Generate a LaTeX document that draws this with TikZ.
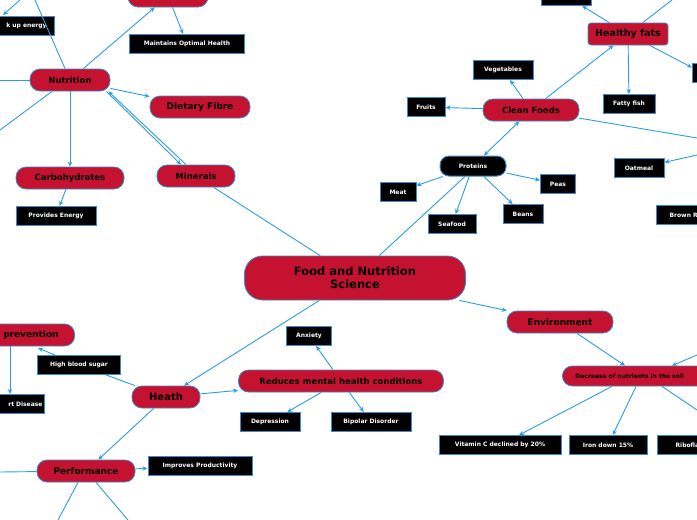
\documentclass[tikz,border=0pt]{standalone}
\usepackage{fontspec}
\setmainfont{DejaVu Sans}
\usetikzlibrary{arrows.meta}
\definecolor{rd}{HTML}{C41230}
\definecolor{bl}{HTML}{2A9DE0}
\definecolor{bd}{HTML}{3A8CC8}
\tikzset{
 red/.style={fill=rd,draw=bd,line width=0.8pt,rounded corners=10pt,minimum height=22pt,font=\bfseries\fontsize{8.5}{9}\selectfont,text=black,inner sep=2pt},
 blk/.style={fill=black,draw=bd,line width=1pt,minimum height=19pt,font=\bfseries\fontsize{6}{7}\selectfont,text=white,inner sep=2pt},
 ln/.style={draw=bl,line width=0.9pt},
 ar/.style={ln,-{Stealth[length=5pt,width=4.5pt]}},
}
\begin{document}
\begin{tikzpicture}[x=1pt,y=-1pt]
\useasboundingbox (0,0) rectangle (697,520);
\clip (0,0) rectangle (697,520);
% nodes
\node[red,minimum width=221pt,minimum height=44pt,rounded corners=18pt,font=\bfseries\fontsize{11.5}{13}\selectfont,align=center] (c) at (355,278) {Food and Nutrition\\ Science};
\node[red,minimum width=80pt] (nut) at (70,80) {Nutrition};
\node[red,minimum width=80pt] (vit) at (168,-4) {Vitamins};
\node[blk,minimum width=115pt] (moh) at (187,44) {Maintains Optimal Health};
\node[red,minimum width=100pt,font=\bfseries\fontsize{9}{10}\selectfont] (df) at (200,107) {Dietary Fibre};
\node[red,minimum width=108pt] (carb) at (70,178) {Carbohydrates};
\node[blk,minimum width=80pt] (pe) at (56,216) {Provides Energy};
\node[red,minimum width=78pt] (min) at (196,176) {Minerals};
\node[blk,minimum width=70pt,anchor=east] (ku) at (55,26) {\hspace*{14pt}k up energy};
\node[red,minimum width=96pt] (cf) at (531,110) {Clean Foods};
\node[red,minimum width=80pt,rounded corners=3pt,font=\bfseries\fontsize{9.5}{10}\selectfont] (hf) at (628,34) {Healthy fats};
\node[blk,minimum width=60pt] (veg) at (503,70) {Vegetables};
\node[blk,minimum width=38pt] (fr) at (426,107) {Fruits};
\node[blk,minimum width=52pt] (ff) at (629,104) {Fatty fish};
\node[blk,minimum width=20pt,anchor=west] (rb) at (692,73) {};
\node[blk,minimum width=50pt] (soy) at (566,-4) {Soy milk};
\node[blk,minimum width=66pt,minimum height=20pt,rounded corners=9pt] (pro) at (473,166) {Proteins};
\node[blk,minimum width=36pt] (meat) at (398,192) {Meat};
\node[blk,minimum width=48pt] (sea) at (452,224) {Seafood};
\node[blk,minimum width=40pt] (bean) at (523,214) {Beans};
\node[blk,minimum width=35pt] (peas) at (558,184) {Peas};
\node[blk,minimum width=50pt] (oat) at (639,168) {Oatmeal};
\node[blk,minimum width=64pt,anchor=west] (br) at (656,215) {Brown Rice};
\node[red,minimum width=106pt,font=\bfseries\fontsize{9}{10}\selectfont] (env) at (560,322) {Environment};
\node[red,minimum width=160pt,minimum height=20pt,anchor=west,font=\bfseries\fontsize{6}{7}\selectfont,align=left,text width=150pt] (dec) at (562,376) {\hspace*{8pt}Decrease of nutrients in the soil};
\node[blk,minimum width=122pt] (vc) at (500,445) {Vitamin C declined by 20\%};
\node[blk,minimum width=78pt] (iron) at (608,445) {Iron down 15\%};
\node[blk,minimum width=70pt,anchor=west] (ribo) at (657,445) {Riboflavin};
\node[red,minimum width=68pt,font=\bfseries\fontsize{10}{11}\selectfont] (hea) at (166,397) {Heath};
\node[red,minimum width=205pt] (rm) at (341,381) {Reduces mental health conditions};
\node[blk,minimum width=45pt] (anx) at (309,336) {Anxiety};
\node[blk,minimum width=60pt] (dep) at (270,422) {Depression};
\node[blk,minimum width=80pt] (bip) at (371,422) {Bipolar Disorder};
\node[red,anchor=east,text width=100pt,align=right,font=\bfseries\fontsize{9}{10}\selectfont] (prev) at (75,335) {prevention\hspace*{14pt}};
\node[blk,minimum width=83pt] (hbs) at (79,365) {High blood sugar};
\node[blk,anchor=east,text width=60pt,align=right] (hd) at (45,404) {rt Disease};
\node[red,minimum width=98pt,font=\bfseries\fontsize{9}{10}\selectfont] (perf) at (86,471) {Performance};
\node[blk,minimum width=104pt] (ip) at (200,466) {Improves Productivity};
\coordinate (e1) at (0,80); \coordinate (e2) at (0,130); \coordinate (e3) at (35,0);
\coordinate (e4) at (20,0); \coordinate (e5) at (672,0); \coordinate (e6) at (697,138);
\coordinate (e7) at (697,155); \coordinate (e8) at (697,355); \coordinate (e9) at (697,410);
\coordinate (e10) at (0,472); \coordinate (e11) at (58,520); \coordinate (e12) at (128,520);
% connectors
\draw[ar] (nut) -- (vit);
\draw[ar] (vit) -- (moh);
\draw[ar] (nut) -- (df);
\draw[ar] (nut) -- (carb);
\draw[ar] (carb) -- (pe);
\draw[ar] ([xshift=-4pt]nut.south east) -- ([xshift=-15pt]min.north);
\draw[ar] ([xshift=-10pt]min.north) -- ([xshift=-2pt]nut.south east);
\draw[ln] (c) -- (min);
\draw[ln] (nut) -- (e1);
\draw[ln] ([xshift=-18pt]nut.south) -- (e2);
\draw[ln] (nut) -- (e3);
\draw[ar] (e4) -- (3,15);
\draw[ar] (cf) -- (hf);
\draw[ar] (cf) -- (veg);
\draw[ar] (cf) -- (fr);
\draw[ar] (hf) -- (ff);
\draw[ar] (hf) -- (rb);
\draw[ar] (hf) -- (soy);
\draw[ln] (hf) -- (e5);
\draw[ln] (cf) -- (e6);
\draw[ar] (e7) -- (oat);
\draw[{Stealth[length=5pt,width=4.5pt]}-{Stealth[length=5pt,width=4.5pt]},ln] (cf) -- (pro);
\draw[ar] (pro) -- (meat);
\draw[ar] (pro) -- (sea);
\draw[ar] (pro) -- (bean);
\draw[ar] (pro) -- (peas);
\draw[ln] (c) -- ([xshift=-8pt]pro.south);
\draw[ar] (c) -- (env);
\draw[ar] (env) -- ([xshift=63pt]dec.north west);
\draw[ar] (e8) -- ([xshift=110pt]dec.north west);
\draw[ar] ([xshift=50pt]dec.south west) -- (vc);
\draw[ar] ([xshift=74pt]dec.south west) -- (iron);
\draw[ln] ([xshift=100pt]dec.south west) -- (e9);
\draw[ar] (c) -- (hea);
\draw[ar] (hea) -- (rm);
\draw[ar] (rm) -- (anx);
\draw[ar] (rm) -- (dep);
\draw[ar] (rm) -- (bip);
\draw[ln] (hea) -- (hbs);
\draw[ar] (hbs) -- (38,348);
\draw[ar] (10,346) -- (hd.north -| 10,0);
\draw[ar] (hea) -- (perf);
\draw[ar] (perf) -- (ip);
\draw[ln] (perf) -- (e10);
\draw[ln] ([xshift=-8pt]perf.south) -- (e11);
\draw[ln] ([xshift=10pt]perf.south) -- (e12);
\end{tikzpicture}
\end{document}
